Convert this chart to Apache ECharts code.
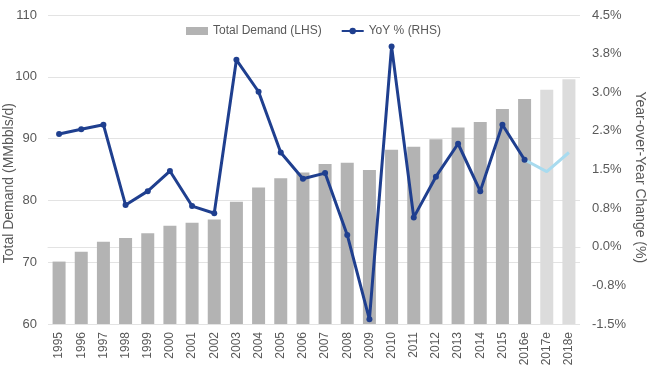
<!DOCTYPE html>
<html><head><meta charset="utf-8">
<script src="https://cdn.jsdelivr.net/npm/echarts@6/dist/echarts.min.js"></script>
<style>html,body{margin:0;padding:0;background:#fff}#c{width:648px;height:372px}</style>
</head><body><div id="c"></div>
<script>
const categories = ['1995','1996','1997','1998','1999','2000','2001','2002','2003','2004','2005','2006','2007','2008','2009','2010','2011','2012','2013','2014','2015','2016e','2017e','2018e'];
const totalDemand = [70.1,71.7,73.3,73.9,74.7,75.9,76.4,76.9,79.8,82.1,83.6,84.5,85.9,86.1,84.9,88.2,88.7,89.9,91.8,92.7,94.8,96.4,97.9,99.6];
const yoyHistorical = [2.19,2.28,2.37,0.81,1.08,1.47,0.79,0.65,3.63,3.01,1.83,1.32,1.43,0.23,-1.41,3.89,0.57,1.36,2.00,1.08,2.37,1.69,null,null];
const yoyForecast = [null,null,null,null,null,null,null,null,null,null,null,null,null,null,null,null,null,null,null,null,null,1.69,1.46,1.83];
const forecastFlags = [0,0,0,0,0,0,0,0,0,0,0,0,0,0,0,0,0,0,0,0,0,0,1,1];
const leftTicks = {min:60,max:110,interval:10};
const rightTicks = {min:-1.5,max:4.5,interval:0.75};

const txt = '#595959';
const chart = echarts.init(document.getElementById('c'));
chart.setOption({
  animation:false,
  textStyle:{fontFamily:'Liberation Sans, Arial, sans-serif'},
  legend:{
    top:20, left:181, itemGap:19,
    textStyle:{color:txt,fontSize:12},
    data:[
      {name:'Total Demand (LHS)', icon:'rect', itemStyle:{color:'#b3b3b3'}},
      {name:'YoY % (RHS)'}
    ],
    itemWidth:22, itemHeight:8
  },
  grid:{left:48,right:68,top:15,bottom:48,outerBoundsMode:'none',containLabel:false},
  xAxis:{
    type:'category', data:categories,
    axisLine:{show:true,lineStyle:{color:'#e3e3e3'}},
    axisTick:{show:false},
    axisLabel:{rotate:90,color:txt,fontSize:12,interval:0,margin:8}
  },
  yAxis:[
    {type:'value',min:leftTicks.min,max:leftTicks.max,interval:leftTicks.interval,
     name:'Total Demand (MMbbls/d)       ',nameLocation:'middle',nameGap:32,nameMoveOverlap:false,
     nameTextStyle:{color:txt,fontSize:14},
     axisLabel:{color:txt,fontSize:13,margin:11},
     axisLine:{show:false},axisTick:{show:false},
     splitLine:{lineStyle:{color:'#e3e3e3'}}},
    {type:'value',min:rightTicks.min,max:rightTicks.max,interval:rightTicks.interval,
     position:'right',
     name:'    Year-over-Year Change (%)',nameLocation:'middle',nameGap:53,nameRotate:-90,nameMoveOverlap:false,
     nameTextStyle:{color:txt,fontSize:14},
     axisLabel:{color:txt,fontSize:13,margin:12,formatter:v=>v.toFixed(1)+'%'},
     axisLine:{show:false},axisTick:{show:false},splitLine:{show:false}}
  ],
  series:[
    {name:'Total Demand (LHS)',type:'bar',data:totalDemand,barWidth:13,
     itemStyle:{color:p=>forecastFlags[p.dataIndex]?'#dcdcdc':'#b3b3b3'}},
    {name:'YoY % (RHS)',type:'line',yAxisIndex:1,data:yoyHistorical,
     symbol:'circle',symbolSize:6,lineStyle:{width:3,color:'#1f3f8f'},itemStyle:{color:'#1f3f8f'},z:5},
    {name:'YoY forecast',type:'line',yAxisIndex:1,data:yoyForecast,
     symbol:'none',lineStyle:{width:3,color:'#a8dbef'},z:4}
  ]
});
</script></body></html>
